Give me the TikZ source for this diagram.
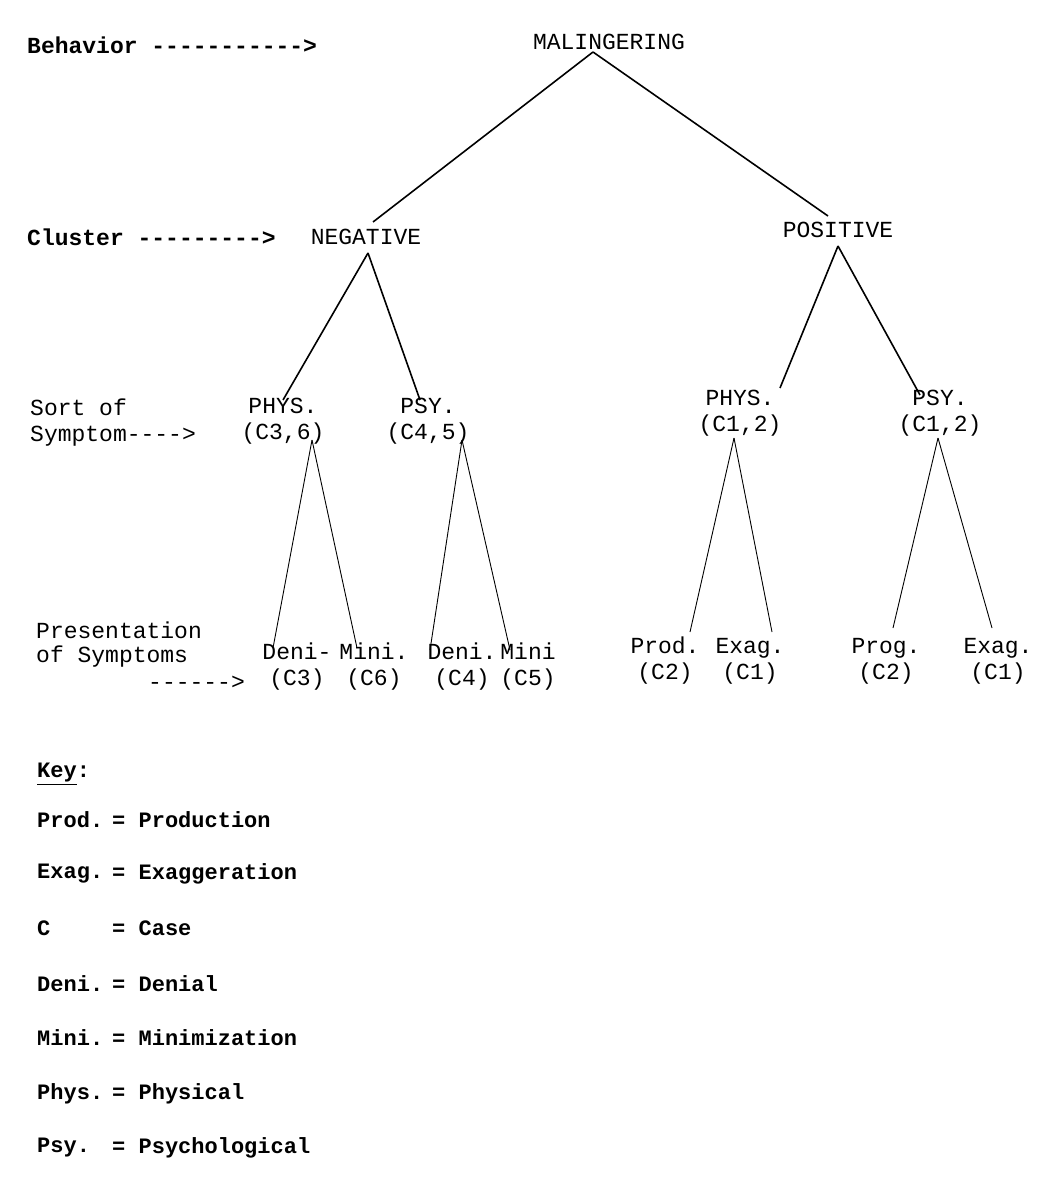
\documentclass[tikz,border=0pt]{standalone}
\usepackage{fontspec}
\setmonofont{Liberation Mono}
\begin{document}
\begin{tikzpicture}[x=1pt,y=-1pt,
  t/.style={font=\ttfamily\fontsize{23}{26}\selectfont, inner sep=0pt, align=center},
  lt/.style={t, anchor=west, align=left},
  k/.style={font=\ttfamily\bfseries\fontsize{22}{26}\selectfont, inner sep=0pt, anchor=west},
  br/.style={line width=1.6pt}, tw/.style={line width=0.9pt}]
\useasboundingbox (0,0) rectangle (1052,1196);
% left labels
\node[lt] (lb) at (27,45) {\textbf{Behavior -----------{>}}};
\node[lt] (lc) at (27,237) {\textbf{Cluster ---------{>}}};
\node[lt] (ls1) at (30,407) {Sort of};
\node[lt] (ls2) at (30,436) {Symptom----{>}};
\node[lt] (lp1) at (36,630) {Presentation};
\node[lt] (lp2) at (36,657) {of Symptoms};
\node[lt] (lp3) at (148,683) {------{>}};
% tree
\node[t] (mal) at (609,42) {MALINGERING};
\node[t] (neg) at (366,237) {NEGATIVE};
\node[t] (pos) at (838,230) {POSITIVE};
\node[t] (ph1) at (283,421) {PHYS.\\(C3,6)};
\node[t] (ps1) at (428,421) {PSY.\\(C4,5)};
\node[t] (ph2) at (740,413) {PHYS.\\(C1,2)};
\node[t] (ps2) at (940,413) {PSY.\\(C1,2)};
\node[t] (d1) at (297,667) {Deni-\\(C3)};
\node[t] (m1) at (374,667) {Mini.\\(C6)};
\node[t] (d2) at (462,667) {Deni.\\(C4)};
\node[t] (m2) at (528,667) {Mini\\(C5)};
\node[t] (pr1) at (665,661) {Prod.\\(C2)};
\node[t] (e1) at (750,661) {Exag.\\(C1)};
\node[t] (pr2) at (886,661) {Prog.\\(C2)};
\node[t] (e2) at (998,661) {Exag.\\(C1)};
\coordinate (malb) at (593,52);
\coordinate (negb) at (368,253);
\coordinate (posb) at (838,246);
\draw[br] (malb) -- (373,222);
\draw[br] (malb) -- (828,216);
\draw[br] (negb) -- (283,400);
\draw[br] (negb) -- (420,400);
\draw[br] (posb) -- (780,388);
\draw[br] (posb) -- (920,395);
\draw[tw] (312,440) -- (273,648);
\draw[tw] (312,440) -- (357,648);
\draw[tw] (462,440) -- (430,650);
\draw[tw] (462,440) -- (510,650);
\draw[tw] (734,438) -- (690,632);
\draw[tw] (734,438) -- (772,632);
\draw[tw] (938,438) -- (893,628);
\draw[tw] (938,438) -- (992,628);
% key
\node[k] (key) at (37,774) {\underline{Key}:};
\foreach \y/\a/\b in {820/Prod./= Production, 874/Exag./= Exaggeration, 928/C/= Case, 984/Deni./= Denial, 1038/Mini./= Minimization, 1094/Phys./= Physical, 1148/Psy./= Psychological}{
  \node[k] at (37,\y) {\a};
  \node[k] at (112,\y) {\b};
}
\end{tikzpicture}
\end{document}
